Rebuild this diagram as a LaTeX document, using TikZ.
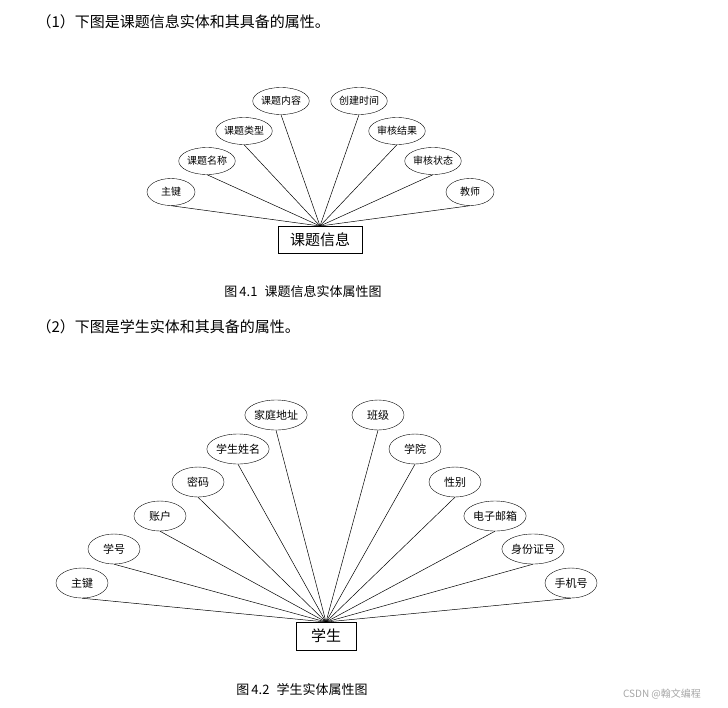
\documentclass[tikz,border=0pt]{standalone}
\usepackage{fontspec}
\setmainfont{Noto Sans CJK SC}
\usetikzlibrary{shapes.geometric}
\begin{document}
\begin{tikzpicture}[x=1pt,y=-1pt,
  attr/.style={draw,ellipse,minimum width=48pt,minimum height=27pt,inner sep=0pt,font=\fontsize{10}{10}\selectfont},
  attrb/.style={attr,minimum width=52pt,minimum height=30pt,font=\fontsize{11}{11}\selectfont},
  ent/.style={draw,rectangle,inner sep=0pt,font=\fontsize{15}{15}\selectfont},
  conn/.style={draw,line width=0.5pt}]
\useasboundingbox (0,0) rectangle (728,707);
\node[anchor=west,font=\fontsize{15}{15}\selectfont] (h1) at (33,22) {（1）下图是课题信息实体和其具备的属性。};
\node[ent,minimum width=84pt,minimum height=27pt] (e1) at (320,239.5) {课题信息};
\coordinate (c1) at (320,226);
\foreach \n/\t/\x/\y in {a/主键/171/192,b/课题名称/207/161,c/课题类型/244/131,d/课题内容/281/101,e/创建时间/359/101,f/审核结果/397/131,g/审核状态/433/161,h/教师/470/192}{
  \node[attr] (p\n) at (\x,\y) {\t};
  \draw[conn] (c1) -- (p\n.south);
}
\node[font=\fontsize{13}{13}\selectfont] (cap1) at (303,292) {图\,4.1\;\;课题信息实体属性图};
\node[anchor=west,font=\fontsize{15}{15}\selectfont] (h2) at (33,327) {（2）下图是学生实体和其具备的属性。};
\node[ent,minimum width=60pt,minimum height=28pt] (e2) at (326,636) {学生};
\coordinate (c2) at (326,622);
\foreach \n/\t/\x/\y in {a/主键/82/583,b/学号/114/549,c/账户/160/516,d/密码/198/482,e/学生姓名/238/449,f/家庭地址/276/415,g/班级/378/415,h/学院/415/449,i/性别/455/482,j/电子邮箱/495/516,k/身份证号/533/549,l/手机号/571/583}{
  \node[attrb] (q\n) at (\x,\y) {\t};
  \draw[conn] (c2) -- (q\n.south);
}
\node[font=\fontsize{13}{13}\selectfont] (cap2) at (302,689) {图\,4.2\;\;学生实体属性图};
\node[font=\fontsize{10}{10}\selectfont,text=black!35] (wm) at (662,694) {CSDN @翰文编程};
\end{tikzpicture}
\end{document}
